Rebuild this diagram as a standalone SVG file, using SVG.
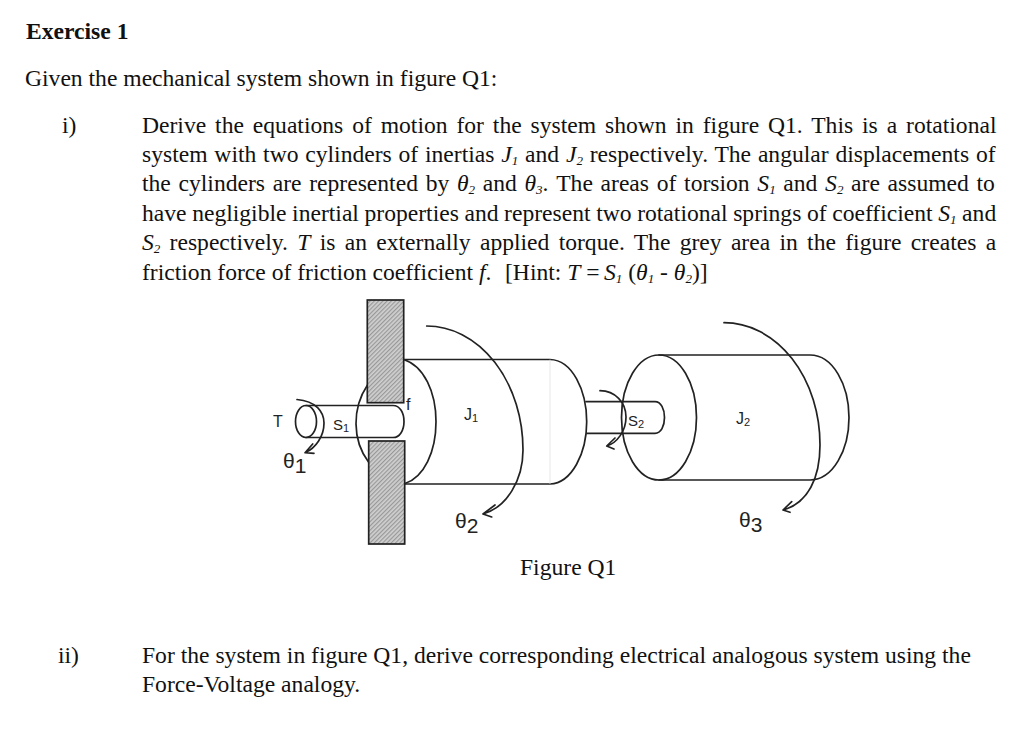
<svg xmlns="http://www.w3.org/2000/svg" width="1024" height="730" viewBox="0 0 1024 730">
<style>
.t{font-family:"Liberation Serif","Times New Roman",serif;font-size:23.6px;fill:#111}
.b{font-weight:bold}
.i{font-style:italic}
.s{font-size:13px;font-style:italic}
.l{font-family:"Liberation Sans",Arial,sans-serif;font-size:15px;fill:#222}
.n{font-size:11px}
.th{font-family:"Liberation Sans",Arial,sans-serif;font-size:21px;fill:#222}
.ln{fill:none;stroke:#222;stroke-width:1.7;stroke-linecap:round;stroke-linejoin:round}
.w{fill:url(#h);stroke:#222;stroke-width:1.7}
</style>
<defs>
<pattern id="h" width="3" height="3" patternUnits="userSpaceOnUse" patternTransform="rotate(45)">
<rect width="3" height="3" fill="#d0d0d0"/><rect width="1.2" height="3" fill="#989898"/>
</pattern>
</defs>
<rect width="1024" height="730" fill="#fff"/>
<g id="text">
<text class="t b" x="26" y="39">Exercise 1</text>
<text class="t" x="25" y="86">Given the mechanical system shown in figure Q1:</text>
<text class="t" x="62" y="133">i)</text>
<text class="t" x="142" y="133" style="word-spacing:3px">Derive the equations of motion for the system shown in figure Q1. This is a rotational</text>
<text class="t" x="142" y="162" style="word-spacing:0.9px">system with two cylinders of inertias <tspan class="i">J</tspan><tspan class="s" dy="3">1</tspan><tspan dy="-3"> and </tspan><tspan class="i">J</tspan><tspan class="s" dy="3">2</tspan><tspan dy="-3"> respectively. The angular displacements of</tspan></text>
<text class="t" x="142" y="191" style="word-spacing:1.8px">the cylinders are represented by <tspan class="i">θ</tspan><tspan class="s" dy="3">2</tspan><tspan dy="-3"> and </tspan><tspan class="i">θ</tspan><tspan class="s" dy="3">3</tspan><tspan dy="-3">. The areas of torsion </tspan><tspan class="i">S</tspan><tspan class="s" dy="3">1</tspan><tspan dy="-3"> and </tspan><tspan class="i">S</tspan><tspan class="s" dy="3">2</tspan><tspan dy="-3"> are assumed to</tspan></text>
<text class="t" x="142" y="221" style="word-spacing:-0.3px">have negligible inertial properties and represent two rotational springs of coefficient <tspan class="i">S</tspan><tspan class="s" dy="3">1</tspan><tspan dy="-3"> and</tspan></text>
<text class="t" x="142" y="250" style="word-spacing:3.4px"><tspan class="i">S</tspan><tspan class="s" dy="3">2</tspan><tspan dy="-3"> respectively. </tspan><tspan class="i">T</tspan> is an externally applied torque. The grey area in the figure creates a</text>
<text class="t" x="142" y="280">friction force of friction coefficient <tspan class="i" x="479">f</tspan>.  <tspan x="505">[Hint: </tspan><tspan class="i">T</tspan> = <tspan class="i" x="604">S</tspan><tspan class="s" dy="3">1</tspan><tspan dy="-3"> (</tspan><tspan class="i">θ</tspan><tspan class="s" dy="3">1</tspan><tspan dy="-3"> - </tspan><tspan class="i">θ</tspan><tspan class="s" dy="3">2</tspan><tspan dy="-3">)]</tspan></text>
<text class="t" x="520" y="575">Figure Q1</text>
<text class="t" x="58" y="663">ii)</text>
<text class="t" x="142" y="663">For the system in figure Q1, derive corresponding electrical analogous system using the</text>
<text class="t" x="142" y="692">Force-Voltage analogy.</text>
</g>
<g id="walls">
<path class="ln" d="M367.5 385C352 408 352 440 368.5 462"/>
<rect class="w" x="367.3" y="300" width="36.4" height="102.7"/>
<rect class="w" x="368.7" y="441" width="36" height="103"/>
</g>
<g id="cylinder-1">
<path class="ln" d="M403.7 359.5H550C572 360 586.7 390 586.7 421.7C586.7 453 572 483 550 484H405"/>
<path class="ln" d="M403.7 359.5C424 366 436 392 436 421.7C436 452 424 477 405 483.5"/>
<path d="M550 359.5V484" fill="none" stroke="#ddd" stroke-width="0.7"/>
</g>
<g id="shaft-1">
<ellipse class="ln" cx="306" cy="421.5" rx="10.5" ry="16"/>
<path class="ln" d="M306 405.5H393C400 405.5 404 413 404 421.5C404 430 400 437.5 393 437.5H306"/>
</g>
<g id="shaft-2">
<path class="ln" d="M586 401.7H655C661 401.7 664.5 409 664.5 417.5C664.5 426 661 433.3 655 433.3H587"/>
</g>
<g id="cylinder-2">
<ellipse class="ln" cx="659" cy="417.5" rx="37.5" ry="62.5"/>
<path class="ln" d="M659 355H810C833 355 849 385 849 417.5C849 450 833 480 810 480H659"/>
</g>
<g id="arrows">
<path class="ln" d="M297 399.5C316 401 324 412 324 423C324 436 316 448 305 452.7M312.7 444L305 452.7L314 453.3"/>
<path class="ln" d="M426.7 326A96.3 124 0 0 1 523 450C523 480 507 507 483 514M495 505L483 514L491.7 517"/>
<path class="ln" d="M600 390.7C615 391 626 402 626 417C626 431 617 443 606.7 446M615 438L606.7 446L614 449"/>
<path class="ln" d="M724 322.7A96 122 0 0 1 820 445C820 478 808 503 783 510M791.7 501.7L783 510L790 512.3"/>
</g>
<g id="labels">
<text class="l" x="273" y="427" style="font-size:16px">T</text>
<text class="l" x="333" y="430">S<tspan class="n" dy="2">1</tspan></text>
<text class="l" x="406" y="410" style="font-size:16px">f</text>
<text class="l" x="464" y="420" style="font-size:16px">J<tspan class="n" dy="2">1</tspan></text>
<text class="l" x="628" y="426">S<tspan class="n" dy="2">2</tspan></text>
<text class="l" x="736" y="424" style="font-size:16px">J<tspan class="n" dy="2">2</tspan></text>
<text class="th" x="283" y="468">θ<tspan dy="5">1</tspan></text>
<text class="th" x="455" y="528">θ<tspan dy="5">2</tspan></text>
<text class="th" x="739" y="527">θ<tspan dy="5">3</tspan></text>
</g>
</svg>
